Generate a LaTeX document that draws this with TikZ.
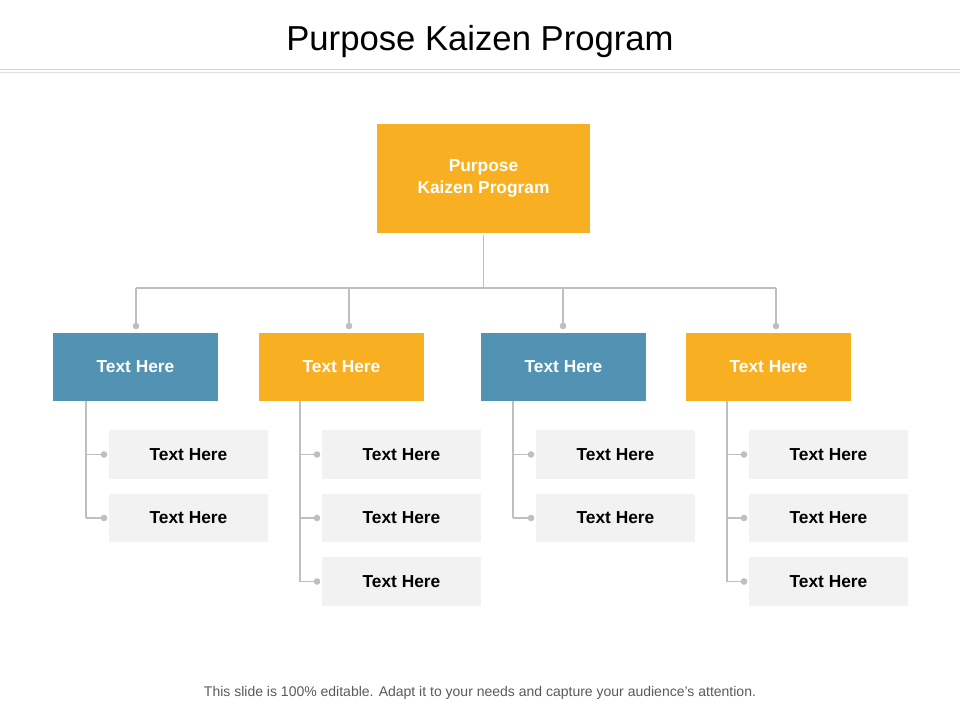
\documentclass[tikz,border=0pt]{standalone}
\usepackage{fontspec}
\setmainfont{Liberation Sans}
\usetikzlibrary{shadows}
\definecolor{org}{HTML}{F8B022}
\definecolor{blu}{HTML}{5292B2}
\definecolor{sub}{HTML}{F2F2F2}
\definecolor{ln}{HTML}{BFBFBF}
\begin{document}
\begin{tikzpicture}[x=0.75pt,y=-0.75pt,
  bx/.style={draw=white,line width=1.5pt,minimum width={#1*0.75pt},inner sep=0pt},
  lvl/.style={bx=167,minimum height=52.5pt,font=\bfseries\fontsize{13}{15}\selectfont,text=white},
  subbox/.style={bx=161,minimum height=38pt,fill=sub,font=\bfseries\fontsize{13}{15}\selectfont,drop shadow={opacity=0.15,shadow xshift=0.5pt,shadow yshift=-0.5pt}},
  cn/.style={draw=ln,line width=0.8pt},
  dot/.style={circle,fill=ln,inner sep=0pt,minimum size=5pt}]
\useasboundingbox (0,0) rectangle (960,720);
\node[font=\fontsize{26}{30}\selectfont] (title) at (480,42) {Purpose Kaizen Program};
\draw[ln!70,line width=0.6pt] (0,69) -- (960,69);
\draw[ln!50,line width=0.6pt] (0,72) -- (960,72);
\node[bx=215,minimum height=83pt,fill=org,text=white,font=\bfseries\fontsize{13}{16}\selectfont,align=center] (top) at (483.5,178.5) {Purpose\\Kaizen Program};
\coordinate (hl) at (136,288); \coordinate (hr) at (776,288);
\draw[cn] (top.south) -- (483.5,288);
\draw[cn] (hl) -- (hr);
\foreach \n/\cx/\dx/\col/\vx in {a/135.5/136/blu/86, b/341.5/349/org/300, c/563.5/563/blu/513, d/768.5/776/org/727}{
  \node[lvl,fill=\col] (\n) at (\cx,366.5) {Text Here};
  \coordinate (\n d) at (\dx,326);
  \draw[cn] (\dx,288) -- (\n d);
  \node[dot] at (\n d) {};
  \coordinate (\n v) at (\vx,401);
}
\newcommand\subrow[4]{% name, left x, vx, count
  \foreach \i/\yy in {1/454.5,2/518,3/581.5}{
    \ifnum\i>#4\else
      \node[subbox] (#1\i) at (#2+80.5,\yy) {Text Here};
      \coordinate (#1p\i) at (#2-4,\yy);
      \draw[cn] (#3,\yy) -- (#1p\i);
      \node[dot] at (#1p\i) {};
    \fi}
}
\subrow{sa}{108}{86}{2}
\subrow{sb}{321}{300}{3}
\subrow{sc}{535}{513}{2}
\subrow{sd}{748}{727}{3}
\draw[cn] (av) -- (86,518);
\draw[cn] (bv) -- (300,581.5);
\draw[cn] (cv) -- (513,518);
\draw[cn] (dv) -- (727,581.5);
\node[font=\fontsize{10.5}{12}\selectfont,text=black!65] (foot) at (480,693) {This slide is 100\% editable. Adapt it to your needs and capture your audience's attention.};
\end{tikzpicture}
\end{document}
